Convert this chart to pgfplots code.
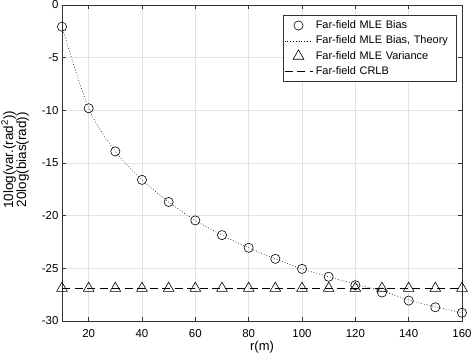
\documentclass[border=0pt]{standalone}
\usepackage{pgfplots}
\pgfplotsset{compat=1.18}
\usepackage{fontspec}
\setmainfont{Liberation Sans}
\begin{document}
\begin{tikzpicture}
\useasboundingbox (-62bp,-41bp) rectangle (412bp,321bp);
\begin{axis}[
  at={(0,0)}, anchor=south west,
  scale only axis, width=400bp, height=316bp,
  xmin=10, xmax=160, ymin=-30, ymax=0,
  xtick={20,40,...,160}, ytick={-30,-25,...,0},
  tick align=inside, tick pos=both,
  major tick length=4bp,
  grid=major,
  major grid style={line width=0.5pt, color=black!11},
  axis line style={line width=0.6pt, color=black!80},
  every tick/.style={color=black!80, line width=0.5pt},
  font=\fontsize{11.5}{13}\selectfont,
  tick label style={font=\fontsize{11.5}{13}\selectfont},
  xticklabel style={yshift=-4.5bp},
  /pgf/number format/assume math mode=true,
  xlabel={r(m)},
  ylabel={10log(var.(rad\textsuperscript{2}))\\20log(bias(rad))},
  xlabel style={at={(axis description cs:0.5,0)}, anchor=base, yshift=-29bp, inner sep=0pt,
    font=\fontsize{13}{13}\selectfont},
  ylabel style={at={(axis description cs:0,0.51)}, anchor=south, yshift=33bp, inner sep=0pt,
    align=center, font=\fontsize{13.5}{13}\selectfont},
  legend style={at={(rel axis cs:0.985,0.968)}, anchor=north east, draw=black!80, line width=0.5pt, fill=white,
    font=\fontsize{11}{12}\selectfont, row sep=0bp, inner xsep=1bp, inner ysep=2.5bp,
    nodes={inner xsep=3bp, inner ysep=2bp, text height=8.6bp, text depth=2.7bp, text width=136bp}},
  legend cell align=left,
  legend image code/.code={\draw[mark repeat=2, mark phase=2, #1] plot coordinates {(0bp,0bp) (14bp,0bp) (28bp,0bp)};},
]
\addplot[only marks, mark=o, mark size=4.6bp, line width=0.6pt, black] coordinates {
(10,-2.06) (20,-9.8) (30,-13.9) (40,-16.6) (50,-18.7) (60,-20.45) (70,-21.85) (80,-23.05)
(90,-24.1) (100,-25.05) (110,-25.8) (120,-26.6) (130,-27.3) (140,-28.06) (150,-28.7) (160,-29.22)};
\addlegendentry{Far-field MLE Bias}
\addplot[black, line width=0.5pt, dash pattern=on 0.8bp off 2bp, smooth, mark=none] coordinates {
(10,-2.06) (20,-9.8) (30,-13.9) (40,-16.6) (50,-18.7) (60,-20.45) (70,-21.85) (80,-23.05)
(90,-24.1) (100,-25.05) (110,-25.8) (120,-26.5) (130,-27.15) (140,-28.0) (150,-28.65) (160,-29.22)};
\addlegendentry{Far-field MLE Bias, Theory}
\addplot[only marks, mark=triangle, mark size=6.2bp, line width=0.6pt, black] coordinates {
(10,-26.9) (20,-26.9) (30,-26.9) (40,-26.9) (50,-26.9) (60,-26.9) (70,-26.9) (80,-26.9)
(90,-26.9) (100,-26.9) (110,-26.9) (120,-26.9) (130,-26.9) (140,-26.9) (150,-26.9) (160,-26.9)};
\addlegendentry{Far-field MLE Variance}
\addplot[black, line width=0.5pt, dash pattern=on 8bp off 4.5bp, mark=none] coordinates {
(10,-26.9) (160,-26.9)};
\addlegendentry{Far-field CRLB}
\end{axis}
\end{tikzpicture}
\end{document}
